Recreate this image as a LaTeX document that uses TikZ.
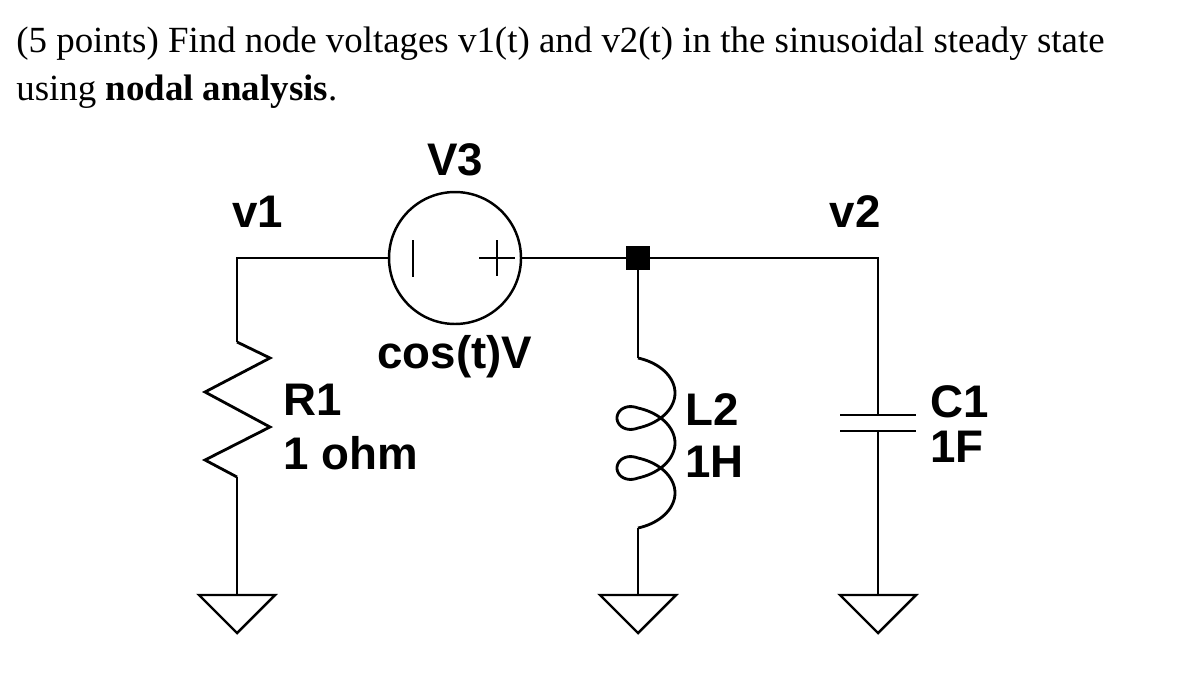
\documentclass[tikz,border=0pt]{standalone}
\usepackage{fontspec}
\setmainfont{Liberation Serif}
\newfontfamily\lbl{Liberation Sans}
\begin{document}
\begin{tikzpicture}[x=0.02cm,y=-0.02cm,
    wire/.style={line width=1.6pt},
    lab/.style={font=\lbl\fontsize{26}{28}\selectfont\bfseries, inner sep=0pt},
    gnd/.style={line width=1.4pt}]
\useasboundingbox (0,0) rectangle (1196,690);
% title
\node[anchor=base west, inner sep=0pt, font=\fontsize{21}{24}\selectfont] (t1) at (16,52)
  {(5 points) Find node voltages v1(t) and v2(t) in the sinusoidal steady state};
\node[anchor=base west, inner sep=0pt, font=\fontsize{21}{24}\selectfont] (t2) at (16,100)
  {using \textbf{nodal analysis}.};
% coordinates
\coordinate (tl) at (237,258);
\coordinate (tr) at (878,258);
\coordinate (j) at (638,258);
\coordinate (rt) at (237,342);
\coordinate (rb) at (237,477);
\coordinate (lt) at (638,358);
\coordinate (lb) at (638,528);
\coordinate (ct) at (878,415);
\coordinate (cb) at (878,431);
\coordinate (g1) at (237,595);
\coordinate (g2) at (638,595);
\coordinate (g3) at (878,595);
% source
\node[draw, circle, line width=1.4pt, minimum size=2.64cm, inner sep=0pt] (v3) at (455,258) {};
\draw[line width=1.4pt] (413,240) -- (413,277);
\draw[line width=1.4pt] (479,258) -- (515,258) (497,240) -- (497,276);
% wires
\draw[wire] (v3.west) -- (tl) -- (rt);
\draw[wire] (v3.east) -- (tr) -- (ct);
\draw[wire] (j) -- (lt);
\draw[wire] (cb) -- (g3);
\draw[wire] (rb) -- (g1);
\draw[wire] (lb) -- (g2);
% resistor
\draw[wire] (rt) -- (270,358) -- (205,392) -- (270,427) -- (205,460) -- (rb);
% inductor
\draw[wire] plot[domain=0:900, samples=181, smooth, variable=\t]
  ({638 + 37*max(sin(\t),0) + 21*min(sin(\t),0)}, {380.5 + 50*(\t/360) - 22.5*cos(\t)});
% capacitor
\draw[wire] (840,415) -- (916,415) (840,431) -- (916,431);
% junction
\fill (j) +(-12,-12) rectangle +(12,12);
% grounds
\foreach \g in {g1,g2,g3} \draw[gnd] (\g) +(-38,0) -- +(38,0) -- +(0,38) -- cycle;
% labels
\node[lab] (lv3) at (455,160) {V3};
\node[lab] (lv1) at (258,212) {v1};
\node[lab] (lv2) at (855,212) {v2};
\node[lab] (lcos) at (455,357) {cos(t)V};
\node[lab, anchor=west] (lr1) at (283,400) {R1};
\node[lab, anchor=west] (lr1v) at (283,453) {1 ohm};
\node[lab, anchor=west] (ll2) at (685,410) {L2};
\node[lab, anchor=west] (ll2v) at (685,462) {1H};
\node[lab, anchor=west] (lc1) at (930,402) {C1};
\node[lab, anchor=west] (lc1v) at (930,447) {1F};
\end{tikzpicture}
\end{document}
